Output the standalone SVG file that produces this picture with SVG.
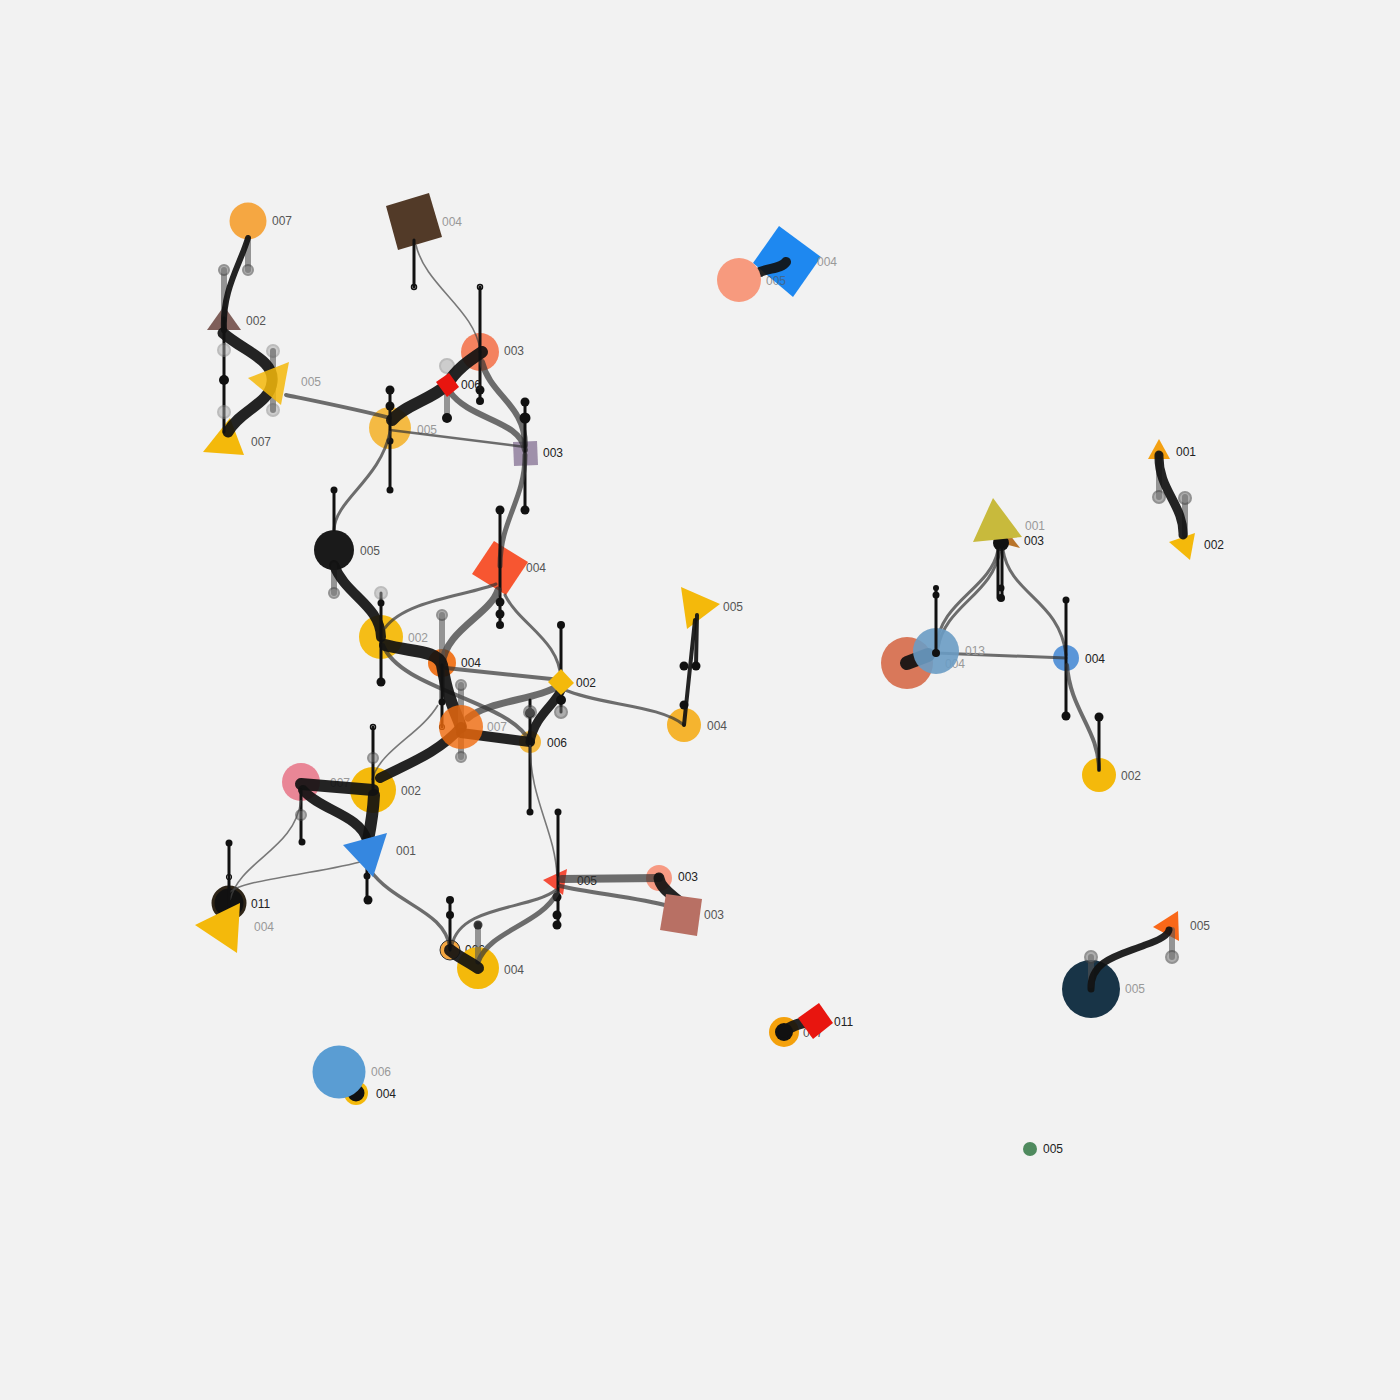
<svg xmlns="http://www.w3.org/2000/svg" width="1400" height="1400" viewBox="0 0 1400 1400">
<style>
text{font-family:"Liberation Sans",Arial,sans-serif;font-size:12px}
.d{fill:#222}.m{fill:#555}.l{fill:#999}
.k{fill:none;stroke:#111;stroke-linecap:round;opacity:.92}
.g{fill:none;stroke:#333;stroke-linecap:round;opacity:.7}
.t{fill:none;stroke:#444;stroke-width:1.6;opacity:.7}
.s{fill:none;stroke:#111;stroke-width:3;stroke-linecap:round}
.sg{fill:none;stroke:#555;stroke-width:6;stroke-linecap:round;opacity:.6}
.dot{fill:#111}
.ring{fill:#777;stroke:#444;stroke-width:2;opacity:.55}
.lr{fill:#aaa;stroke:#888;stroke-width:2;opacity:.5}
</style>
<rect width="1400" height="1400" fill="#f2f2f2"/>
<g id="nodes">
<g id="n1"><circle cx="248" cy="221" r="18.5" fill="#F5A742"/><text x="272" y="225" class="m">007</text></g>
<g id="n2"><polygon points="207,330 241,330 224,306" fill="#6B4540" opacity=".85"/><text x="246" y="325" class="m">002</text></g>
<g id="n4"><polygon points="203,452 244,455 230,418" fill="#F4B90B"/><text x="251" y="446" class="m">007</text></g>
<g id="n5"><polygon points="386,206 429,193 442,237 398,250" fill="#523A28"/><text x="442" y="226" class="l">004</text></g>
<g id="n6"><circle cx="480" cy="352" r="19" fill="#F4764F" opacity=".9"/><text x="504" y="355" class="m">003</text></g>
<g id="n8"><circle cx="390" cy="428" r="21" fill="#F4B024" opacity=".85"/><text x="417" y="434" class="l">005</text></g>
<g id="n9"><polygon points="513,442 537,441 538,465 514,466" fill="#9A8AA5" opacity=".95"/><text x="543" y="457" class="d">003</text></g>
<g id="n10"><circle cx="334" cy="550" r="20" fill="#1A1A1A"/><text x="360" y="555" class="m">005</text></g>
<g id="n11"><polygon points="472,574 494,541 528,562 506,595" fill="#F74D26" opacity=".95"/><text x="526" y="572" class="m">004</text></g>
<g id="n12"><circle cx="381" cy="637" r="22" fill="#F4B90B" opacity=".95"/><text x="408" y="642" class="l">002</text></g>
<g id="n13"><circle cx="442" cy="663" r="14" fill="#F06A0C" opacity=".9"/><text x="461" y="667" class="d">004</text></g>
<g id="n16"><circle cx="530" cy="742" r="11" fill="#F4B024" opacity=".85"/><text x="547" y="747" class="d">006</text></g>
<g id="n17"><polygon points="681,587 720,604 687,629" fill="#F4B90B"/><text x="723" y="611" class="m">005</text></g>
<g id="n18"><circle cx="684" cy="725" r="17" fill="#F4B024" opacity=".95"/><text x="707" y="730" class="m">004</text></g>
<g id="n19"><circle cx="301" cy="782" r="19" fill="#E88090" opacity=".95"/><text x="330" y="787" class="l">007</text></g>
<g id="n20"><circle cx="373" cy="790" r="23" fill="#F4B90B"/><text x="401" y="795" class="m">002</text></g>
<g id="n22"><circle cx="229" cy="903" r="16" fill="#111" stroke="#2E2518" stroke-width="3"/><text x="251" y="908" class="d">011</text></g>
<g id="n24"><circle cx="450" cy="950" r="10" fill="#F5A742" stroke="#333" stroke-width="1"/><text x="465" y="954" class="d">006</text></g>
<g id="n25"><circle cx="478" cy="968" r="21" fill="#F4B90B"/><text x="504" y="974" class="m">004</text></g>
<g id="n26"><polygon points="543,880 567,869 563,895" fill="#F44D3A"/><text x="577" y="885" class="d">005</text></g>
<g id="n27"><circle cx="659" cy="878" r="13" fill="#F79A83"/><text x="678" y="881" class="d">003</text></g>
<g id="n29"><polygon points="753,263 779,226 821,257 793,297" fill="#1E88F0"/><text x="817" y="266" class="l">004</text></g>
<g id="n31"><polygon points="1148,459 1170,459 1159,439" fill="#F3A012"/><text x="1176" y="456" class="d">001</text></g>
<g id="n32"><polygon points="1169,542 1195,533 1190,560" fill="#F4B90B"/><text x="1204" y="549" class="d">002</text></g>
<g id="n33"><polygon points="993,541 1020,548 1010,535" fill="#B8742A"/><circle cx="1001" cy="543" r="8" fill="#111"/><text x="1024" y="545" class="d">003</text></g>
<g id="n34"><polygon points="973,542 1022,537 993,498" fill="#C8BA3C"/><text x="1025" y="530" class="l">001</text></g>
<g id="n35"><circle cx="907" cy="663" r="26" fill="#D9785A"/><text x="945" y="668" class="l">004</text></g>
<g id="n37"><circle cx="1066" cy="658" r="13" fill="#5B96D8"/><text x="1085" y="663" class="d">004</text></g>
<g id="n38"><circle cx="1099" cy="775" r="17" fill="#F4B90B"/><text x="1121" y="780" class="m">002</text></g>
<g id="n39"><circle cx="1091" cy="989" r="29" fill="#183447"/><text x="1125" y="993" class="l">005</text></g>
<g id="n40"><polygon points="1153,927 1178,911 1179,941" fill="#F96819"/><text x="1190" y="930" class="m">005</text></g>
<g id="n41"><circle cx="356" cy="1093" r="12" fill="#F4B90B"/><circle cx="356" cy="1093" r="8.5" fill="#111"/><text x="376" y="1098" class="d">004</text></g>
<g id="n42"><circle cx="339" cy="1072" r="26.5" fill="#5A9DD3"/><text x="371" y="1076" class="l">006</text></g>
<g id="n43"><circle cx="784" cy="1032" r="15" fill="#F4A10C"/><circle cx="784" cy="1032" r="9" fill="#111"/><text x="803" y="1037" class="m">007</text></g>
<g id="n45"><circle cx="1030" cy="1149" r="7" fill="#4F8A5E"/><text x="1043" y="1153" class="d">005</text></g>
</g>
<g id="connectors">
<!-- top-left cluster -->
<path class="sg" d="M224 270 V320"/><path class="sg" d="M248 240 V270"/>
<circle class="ring" cx="224" cy="270" r="5"/><circle class="ring" cx="248" cy="270" r="5"/>
<path class="k" stroke-width="6" d="M248 238 C240 265 222 290 224 330"/>
<path class="s" d="M224 318 V432"/><circle class="dot" cx="224" cy="380" r="5"/>
<circle class="lr" cx="273" cy="351" r="6"/><circle class="lr" cx="273" cy="410" r="6"/><circle class="lr" cx="224" cy="350" r="6"/><circle class="lr" cx="224" cy="412" r="6"/>
<path class="sg" d="M273 351 V410" opacity=".35"/>
<path class="k" stroke-width="11" opacity=".88" d="M223 333 C245 352 275 360 272 382 C270 404 240 410 228 432"/>
<path class="g" stroke-width="4" d="M286 395 C320 402 360 410 390 418"/>
<!-- center top -->
<path class="s" stroke-width="2" d="M414 240 V287"/><circle cx="414" cy="287" r="2.5" fill="none" stroke="#111" stroke-width="1.5"/>
<path class="t" d="M416 245 C425 285 475 310 480 350"/>
<path class="s" stroke-width="2" d="M480 287 V352"/><circle cx="480" cy="287" r="2.5" fill="none" stroke="#111" stroke-width="1.5"/>
<path class="s" stroke-width="5" d="M480 352 V400"/><circle class="dot" cx="480" cy="390" r="4.5"/><circle class="dot" cx="480" cy="401" r="4"/>
<path class="g" stroke-width="6" d="M482 362 C490 395 525 405 525 445"/>
<path class="g" stroke-width="6" d="M450 392 C470 420 520 420 525 450"/>
<circle class="lr" cx="447" cy="366" r="7"/>
<path class="sg" d="M447 385 V418"/><circle class="dot" cx="447" cy="418" r="5"/>
<path class="k" stroke-width="12" d="M482 352 C470 360 455 370 447 385 C430 400 405 405 392 420"/>
<path class="g" stroke-width="2.5" d="M390 430 L525 447"/>
<path class="s" d="M390 390 V490"/><circle class="dot" cx="390" cy="390" r="4.5"/><circle class="dot" cx="390" cy="406" r="4.5"/><circle class="dot" cx="390" cy="441" r="3.5"/><circle class="dot" cx="390" cy="490" r="3.5"/>
<path class="s" stroke-width="5" d="M525 402 V510"/><circle class="dot" cx="525" cy="402" r="4.5"/><circle class="dot" cx="525" cy="418" r="5.5"/><circle class="dot" cx="525" cy="510" r="4.5"/>
<path class="g" stroke-width="5" d="M525 455 C525 500 500 520 500 566"/>
<path class="g" stroke-width="3" d="M390 432 C380 480 335 500 334 530"/>
<!-- middle -->
<path class="s" stroke-width="2.5" d="M334 490 V530"/><circle class="dot" cx="334" cy="490" r="3.5"/>
<path class="sg" d="M334 565 V593"/><circle class="ring" cx="334" cy="593" r="5"/>
<path class="k" stroke-width="10" d="M334 565 C345 595 380 605 381 637"/>
<path class="s" stroke-width="4" d="M381 593 V682"/><circle class="lr" cx="381" cy="593" r="6"/><circle class="dot" cx="381" cy="603" r="3.5"/><circle class="dot" cx="381" cy="682" r="4.5"/>
<path class="g" stroke-width="3" d="M385 628 C405 600 470 595 496 584"/>
<path class="s" stroke-width="4" d="M500 510 V625"/><circle class="dot" cx="500" cy="510" r="4.5"/><circle class="dot" cx="500" cy="602" r="4.5"/><circle class="dot" cx="500" cy="614" r="4.5"/><circle class="dot" cx="500" cy="625" r="4"/>
<path class="g" stroke-width="7" d="M498 590 C490 615 445 630 442 665"/>
<path class="g" stroke-width="3" d="M505 595 C520 625 560 640 561 680"/>
<path class="sg" d="M442 615 V700" opacity=".5"/><circle class="ring" cx="442" cy="615" r="5"/>
<path class="g" stroke-width="4" d="M383 645 C400 690 510 700 530 742"/>
<path class="g" stroke-width="4" d="M446 668 L561 680"/>
<path class="k" stroke-width="12" d="M385 645 C410 652 438 650 442 665 C448 700 455 710 461 727"/>
<path class="s" stroke-width="2" d="M442 665 V727"/><circle class="dot" cx="442" cy="702" r="3.5"/><circle cx="442" cy="727" r="2.5" fill="none" stroke="#111" stroke-width="1.2"/>
<path class="t" d="M438 705 C420 735 380 750 372 780"/>
<path class="sg" d="M461 685 V757" opacity=".5"/><circle class="ring" cx="461" cy="685" r="5"/><circle class="ring" cx="461" cy="757" r="5"/>
<path class="s" stroke-width="4" d="M561 625 V712"/><circle class="dot" cx="561" cy="625" r="4"/><circle class="ring" cx="561" cy="712" r="6"/><circle class="dot" cx="561" cy="700" r="5"/>
<path class="k" stroke-width="10" d="M461 733 L530 742"/>
<path class="k" stroke-width="10" d="M380 778 C405 765 440 752 461 727"/>
<path class="g" stroke-width="7" d="M468 718 C490 700 540 700 561 684"/>
<path class="k" stroke-width="9" d="M530 742 C535 715 555 705 561 690"/>
<path class="s" stroke-width="2.5" d="M530 700 V812"/><circle class="dot" cx="530" cy="812" r="3.5"/><circle class="dot" cx="530" cy="713" r="5"/><circle class="ring" cx="530" cy="712" r="6"/>
<path class="g" stroke-width="3" d="M565 690 C600 705 660 705 684 725"/>
<path class="k" stroke-width="4" d="M695 620 L684 725"/><path class="k" stroke-width="4" d="M697 615 L696 666"/>
<circle class="dot" cx="684" cy="666" r="4.5"/><circle class="dot" cx="696" cy="666" r="4.5"/><circle class="dot" cx="684" cy="705" r="4.5"/>
<!-- lower-left -->
<path class="s" stroke-width="2" d="M373 727 V790"/><circle cx="373" cy="727" r="2.5" fill="none" stroke="#111" stroke-width="1.5"/><circle class="ring" cx="373" cy="758" r="5"/>
<path class="k" stroke-width="12" d="M301 784 L373 790"/>
<path class="k" stroke-width="10" d="M303 790 C320 810 360 815 367 840"/>
<path class="k" stroke-width="12" d="M374 795 C373 815 370 830 368 840"/>
<path class="s" stroke-width="2.5" d="M301 790 V842"/><circle class="ring" cx="301" cy="815" r="5"/><circle class="dot" cx="302" cy="842" r="3.5"/>
<path class="t" stroke-width="2" d="M301 800 C295 850 240 860 230 900"/>
<path class="t" d="M360 862 C310 875 240 880 229 893"/>
<path class="s" stroke-width="2.5" d="M229 843 V905"/><circle class="dot" cx="229" cy="843" r="3.5"/><circle cx="229" cy="877" r="2.5" fill="none" stroke="#111" stroke-width="1.2"/>
<path class="s" stroke-width="4" d="M367 860 V900"/><circle class="dot" cx="367" cy="876" r="3.5"/><circle class="dot" cx="368" cy="900" r="4.5"/>
<path class="g" stroke-width="3.5" d="M370 870 C395 905 445 910 450 948"/>
<path class="t" stroke-width="2" d="M530 745 C530 800 555 830 557 876"/>
<path class="s" stroke-width="2.5" d="M558 812 V925"/><circle class="dot" cx="558" cy="812" r="3.5"/><circle class="dot" cx="557" cy="897" r="4.5"/><circle class="dot" cx="557" cy="915" r="4.5"/><circle class="dot" cx="557" cy="925" r="4.5"/>
<path class="g" stroke-width="8" d="M562 879 L659 878"/>
<path class="g" stroke-width="4" d="M560 886 C590 893 640 898 668 906"/>
<path class="k" stroke-width="11" d="M659 878 C660 888 672 895 680 902"/>
<path class="g" stroke-width="3" opacity=".5" d="M556 890 C530 910 460 905 452 945"/>
<path class="g" stroke-width="5" d="M557 893 C540 925 490 930 478 962"/>
<path class="s" stroke-width="3" d="M450 900 V950"/><circle class="dot" cx="450" cy="900" r="4"/><circle class="dot" cx="450" cy="915" r="4"/>
<path class="sg" d="M478 925 V960"/><circle class="dot" cx="478" cy="925" r="4.5" opacity=".8"/>
<path class="k" stroke-width="12" d="M450 950 C460 958 470 962 478 968"/>
<!-- top pair -->
<path class="k" stroke-width="10" d="M760 272 C770 268 782 268 786 262"/>
<!-- right cluster -->
<path class="g" stroke-width="3" d="M998 550 C990 590 940 600 936 648"/>
<path class="g" stroke-width="3" d="M1000 550 C993 595 945 605 938 648"/>
<path class="g" stroke-width="3" d="M1003 550 C1010 595 1060 600 1066 655"/>
<path class="s" stroke-width="4" d="M998 545 V598"/><path class="s" stroke-width="5" d="M1002 545 V598"/><circle class="dot" cx="1001" cy="598" r="4"/><circle class="dot" cx="1001" cy="588" r="3.5"/>
<path class="k" stroke-width="14" d="M907 663 L928 655"/>
<path class="g" stroke-width="3" d="M936 653 L1066 658"/>
<path class="s" stroke-width="3" d="M1066 600 V716"/><circle class="dot" cx="1066" cy="600" r="3.5"/><circle class="dot" cx="1066" cy="716" r="4.5"/>
<path class="g" stroke-width="4" d="M1067 665 C1070 710 1099 730 1099 770"/>
<path class="s" stroke-width="5" d="M1099 717 V770"/><circle class="dot" cx="1099" cy="717" r="4.5"/>
<!-- far right -->
<path class="sg" d="M1159 455 V497"/><path class="sg" d="M1185 497 V535"/>
<circle class="ring" cx="1159" cy="497" r="6"/><circle class="ring" cx="1185" cy="498" r="6"/>
<path class="k" stroke-width="9" d="M1159 455 C1158 490 1184 505 1183 535"/>
<path class="sg" d="M1091 957 V985"/><path class="sg" d="M1172 930 V957"/>
<circle class="ring" cx="1091" cy="957" r="6"/><circle class="ring" cx="1172" cy="957" r="6"/>
<path class="k" stroke-width="7" d="M1091 989 C1090 960 1120 955 1145 945 C1160 940 1168 935 1169 930"/>
<path class="k" stroke-width="11" d="M784 1032 C790 1025 805 1022 815 1020"/>
</g>
<g id="nodes-front">
<g id="n3"><polygon points="248,378 289,362 281,405" fill="#F4B90B" opacity=".85"/><text x="301" y="386" class="l">005</text></g>
<g id="n7"><polygon points="436,382 449,373 459,387 447,397" fill="#E8150F"/><text x="461" y="389" class="d">006</text></g>
<g id="n14"><polygon points="548,682 561,669 574,683 561,695" fill="#F4B90B"/><text x="576" y="687" class="d">002</text></g>
<g id="n15"><circle cx="461" cy="727" r="22" fill="#F06A0C" opacity=".8"/><text x="487" y="731" class="l">007</text></g>
<g id="n21"><polygon points="343,845 387,833 373,877" fill="#3587E0"/><text x="396" y="855" class="m">001</text></g>
<g id="n23"><polygon points="195,925 240,903 237,953" fill="#F4B90B"/><text x="254" y="931" class="l">004</text></g>
<g id="n28"><polygon points="666,894 702,899 697,936 660,930" fill="#B87064"/><text x="704" y="919" class="m">003</text></g>
<g id="n30"><circle cx="739" cy="280" r="22" fill="#F79A7E"/><text x="766" y="285" class="m" opacity=".6">005</text></g>
<g id="n36"><circle cx="936" cy="651" r="23" fill="#6A9CC4" opacity=".9"/><path d="M936 588 V655" stroke="#111" stroke-width="3" stroke-linecap="round"/><circle class="dot" cx="936" cy="588" r="3"/><circle class="dot" cx="936" cy="595" r="3.5"/><circle class="dot" cx="936" cy="653" r="4"/><text x="965" y="655" class="l">013</text></g>
<g id="n44"><polygon points="798,1018 819,1003 833,1023 813,1039" fill="#E8150F"/><text x="834" y="1026" class="d">011</text></g>
</g>
</svg>
